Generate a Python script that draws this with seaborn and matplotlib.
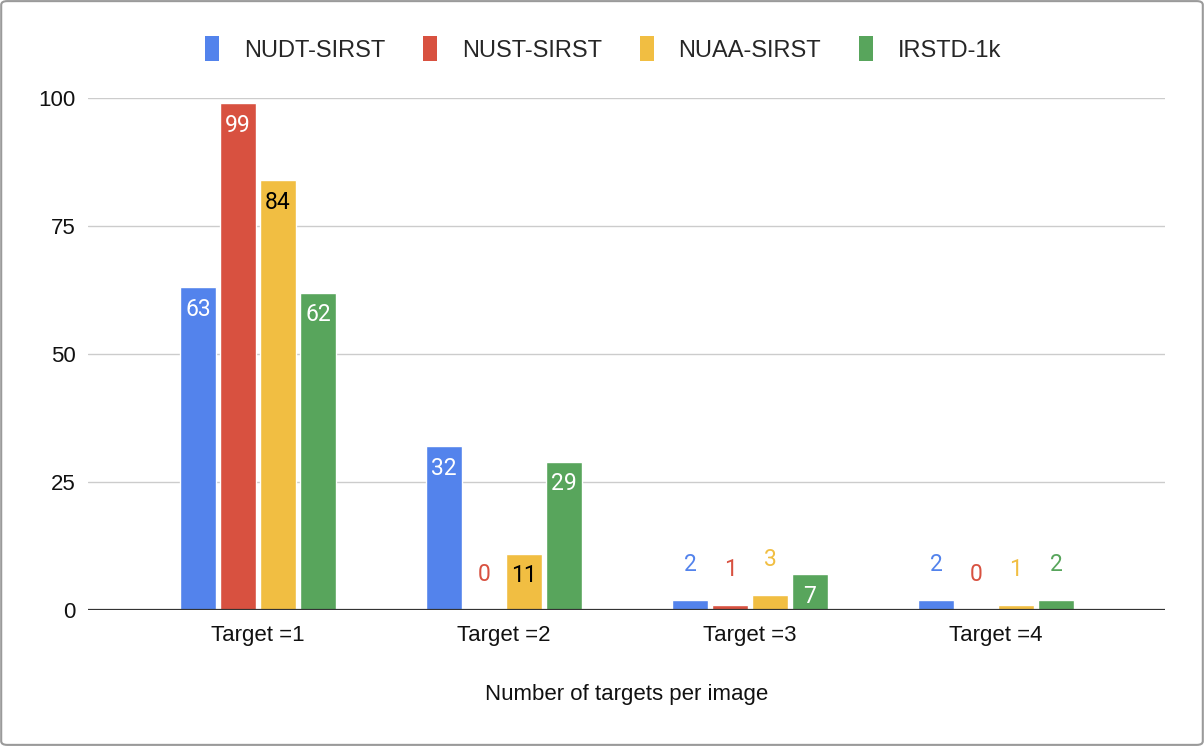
import pandas as pd
import matplotlib.pyplot as plt
import seaborn as sns
from matplotlib.patches import Patch, FancyBboxPatch

# chart data
targets = ['Target =1', 'Target =2', 'Target =3', 'Target =4']
datasets = ['NUDT-SIRST', 'NUST-SIRST', 'NUAA-SIRST', 'IRSTD-1k']
nudt = [63, 32, 2, 2]
nust = [99, 0, 1, 0]
nuaa = [84, 11, 3, 1]
irstd = [62, 29, 7, 2]
colors = ['#5383EC', '#D85140', '#F1BE42', '#58A55C']
inside_text = ['white', 'white', 'black', 'white']

rows = []
for name, vals in zip(datasets, [nudt, nust, nuaa, irstd]):
    for t, v in zip(targets, vals):
        rows.append({'target': t, 'dataset': name, 'count': v})
df = pd.DataFrame(rows)

sns.set_style('white')
plt.rcParams['font.family'] = ['Liberation Sans', 'DejaVu Sans']

fig = plt.figure(figsize=(12.04, 7.46), dpi=100)
ax = fig.add_axes([88 / 1204, 136 / 746, 1077 / 1204, 512 / 746])

sns.barplot(data=df, x='target', y='count', hue='dataset', palette=colors,
            width=0.65, gap=0.1, saturation=1, ax=ax, legend=False)

ax.set_ylim(0, 100)
ax.set_xlim(-0.691, 3.687)
ax.set_yticks([0, 25, 50, 75, 100])
ax.yaxis.grid(True, color='#cccccc', lw=1)
ax.set_axisbelow(True)
for s in ax.spines.values():
    s.set_visible(False)
ax.axhline(0, color='#333333', lw=1.6, zorder=5)
ax.tick_params(axis='both', length=0, labelsize=16, colors='#111111')
ax.tick_params(axis='x', pad=11)
ax.tick_params(axis='y', pad=9)
ax.set_ylabel('')
ax.set_xlabel('Number of targets per image', fontsize=16, color='#111111', labelpad=27)

# value labels, inside the bar top when tall enough, else above in bar colour
for i, cont in enumerate(ax.containers):
    for bar in cont:
        h = bar.get_height()
        x = bar.get_x() + bar.get_width() / 2
        if h >= 5:
            ax.annotate(f'{int(round(h))}', (x, h), xytext=(0, -16), textcoords='offset points',
                        ha='center', va='center', fontsize=16.5, color=inside_text[i],
                        family=['Roboto', 'DejaVu Sans'])
        else:
            ax.annotate(f'{int(round(h))}', (x, h), xytext=(0, 25.5), textcoords='offset points',
                        ha='center', va='center', fontsize=16.5, color=colors[i],
                        family=['Roboto', 'DejaVu Sans'])

handles = [Patch(facecolor=c, edgecolor='none', label=n) for c, n in zip(colors, datasets)]
fig.legend(handles=handles, loc='center', bbox_to_anchor=(603 / 1204, 1 - 49 / 746), ncol=4,
           frameon=False, fontsize=17, handlelength=0.6, handleheight=1.2,
           handletextpad=1.05, columnspacing=1.6)

fig.patches.append(FancyBboxPatch((0.001, 0.0015), 0.998, 0.997, boxstyle='round,pad=0,rounding_size=0.005',
                                  transform=fig.transFigure, fill=False, edgecolor='#9a9a9a', lw=1.5))

plt.savefig('out.png', dpi=100)
